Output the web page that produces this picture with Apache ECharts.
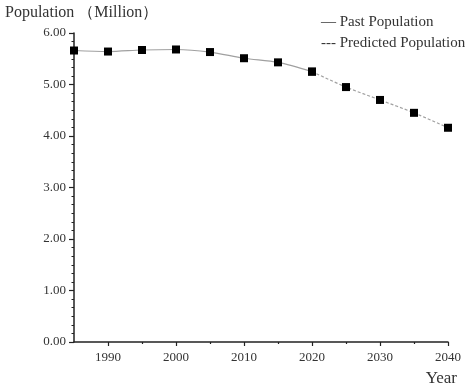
<!DOCTYPE html>
<html>
<head>
<meta charset="utf-8">
<script src="https://cdn.jsdelivr.net/npm/echarts@6/dist/echarts.min.js"></script>
<style>html,body{margin:0;padding:0;background:#fff}#c{width:474px;height:387px}</style>
</head>
<body>
<div id="c"></div>
<script>
const pastYears = [1985, 1990, 1995, 2000, 2005, 2010, 2015, 2020];
const pastValues = [5.66, 5.64, 5.67, 5.68, 5.63, 5.51, 5.43, 5.25];
const predYears = [2020, 2025, 2030, 2035, 2040];
const predValues = [5.25, 4.95, 4.70, 4.45, 4.16];
const xMajorTicks = [1990, 2000, 2010, 2020, 2030, 2040];
const xMinorTicks = [1995, 2005, 2015, 2025, 2035];
const seriesNames = ['Past Population', 'Predicted Population'];

const font = '"Liberation Serif", "DejaVu Serif", serif';
const chart = echarts.init(document.getElementById('c'));
const zip = (xs, ys) => xs.map((x, i) => [x, ys[i]]);

chart.setOption({
  animation: false,
  backgroundColor: '#fff',
  grid: { left: 74, right: 26, top: 33, bottom: 45, containLabel: false, outerBoundsMode: 'none' },
  title: {
    text: 'Population （Million）',
    left: 0, top: 0,
    textStyle: { fontFamily: font, fontSize: 16, fontWeight: 'normal', color: '#333' }
  },
  legend: {
    orient: 'vertical',
    left: 321, top: 15,
    padding: 0,
    itemWidth: 0, itemHeight: 0, itemGap: 6,
    icon: 'rect',
    data: seriesNames,
    formatter: n => (n === seriesNames[0] ? '— ' : '--- ') + n,
    textStyle: { fontFamily: font, fontSize: 15, color: '#333', padding: [0, 0, 0, -5] }
  },
  xAxis: [{
    type: 'value', min: 1985, max: 2040,
    name: 'Year', nameLocation: 'end', nameGap: 9,
    nameTextStyle: { fontFamily: font, fontSize: 17, color: '#333', align: 'right', verticalAlign: 'top', padding: [28, 0, 0, 0] },
    axisLine: { show: true, lineStyle: { color: '#222', width: 1.5 } },
    axisTick: { show: true, length: 4, customValues: xMajorTicks, lineStyle: { color: '#222', width: 1.2 } },
    axisLabel: { customValues: xMajorTicks, formatter: v => String(v), fontFamily: font, fontSize: 13, color: '#333', margin: 9 },
    splitLine: { show: false }
  }, {
    type: 'value', min: 1985, max: 2040, position: 'bottom',
    axisLine: { show: false },
    axisTick: { show: true, length: 2, customValues: xMinorTicks, lineStyle: { color: '#222', width: 1.2 } },
    axisLabel: { show: false },
    splitLine: { show: false }
  }],
  yAxis: {
    type: 'value', min: 0, max: 6, interval: 1,
    axisLine: { show: true, lineStyle: { color: '#222', width: 1.5 } },
    axisTick: { show: true, length: 5, lineStyle: { color: '#222', width: 1.2 } },
    minorTick: { show: true, splitNumber: 6, length: 2.5, lineStyle: { color: '#222', width: 1 } },
    axisLabel: { formatter: v => v.toFixed(2), fontFamily: font, fontSize: 13, color: '#333', margin: 8 },
    splitLine: { show: false }
  },
  series: [{
    name: seriesNames[0], type: 'line', smooth: 0.3,
    data: zip(pastYears, pastValues),
    symbol: 'rect', symbolSize: 8,
    itemStyle: { color: '#000' },
    lineStyle: { color: '#a0a0a0', width: 1.2, type: 'solid' },
    z: 3
  }, {
    name: seriesNames[1], type: 'line', smooth: 0.3,
    data: zip(predYears, predValues),
    symbol: 'rect', symbolSize: 8,
    itemStyle: { color: '#000' },
    lineStyle: { color: '#a0a0a0', width: 1.2, type: [3, 2] },
    z: 2
  }]
});
</script>
</body>
</html>
